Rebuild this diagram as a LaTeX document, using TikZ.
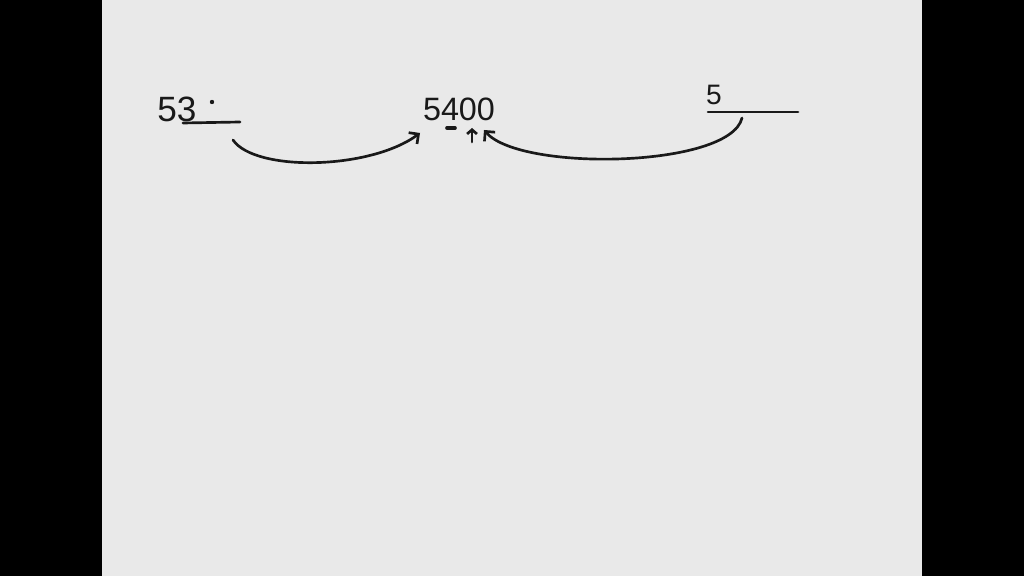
\documentclass[tikz,border=0pt]{standalone}
\usepackage{fontspec}
\setsansfont{Liberation Sans}
\usetikzlibrary{arrows.meta}
\definecolor{paper}{RGB}{233,233,233}
\definecolor{ink}{RGB}{25,25,25}
\tikzset{
  pen/.style={draw=ink,line width=1.9pt,line cap=round,line join=round},
  digits/.style={text=ink,inner sep=0pt,font=\sffamily},
  hand arrow/.style={pen,-{Straight Barb[length=5pt,width=10pt]}}
}

\begin{document}
\begin{tikzpicture}[x=0.025cm,y=-0.025cm]
      \useasboundingbox (0,0) rectangle (1024,576);
      \fill[black] (0,0) rectangle (1024,576);
      \fill[paper] (102,0) rectangle (922,576);
      % left number
      \node[digits,font=\sffamily\fontsize{25}{28}\selectfont] (left) at (177,109) {53};
      \fill[ink] (212,102) circle (2.2);
      \coordinate (ulA) at (183,123);
      \coordinate (ulB) at (240,122);
      \draw[pen] (ulA)--(ulB);
      % middle number
      \node[digits,font=\sffamily\fontsize{23}{26}\selectfont] (mid) at (459,109) {5400};
      \coordinate (dashA) at (447,128);
      \coordinate (dashB) at (455,128);
      \draw[pen,line width=2.6pt] (dashA)--(dashB);
      \coordinate (tickA) at (472,142);
      \coordinate (tickB) at (472,128);
      \draw[pen,-{Straight Barb[length=3pt,width=7pt]}] (tickA)--(tickB);
      % right number
      \node[digits,font=\sffamily\fontsize{20}{24}\selectfont] (right) at (714,95) {5};
      \coordinate (urA) at (708,112);
      \coordinate (urB) at (798,112);
      \draw[pen] (urA)--(urB);
      % arrows into 5400
      \coordinate (c1s) at (233,140);
      \coordinate (c1e) at (420,133);
      \draw[hand arrow] (c1s) .. controls (255,172) and (370,170) .. (c1e);
      \coordinate (c2s) at (742,118);
      \coordinate (c2e) at (484,130);
      \draw[hand arrow] (c2s) .. controls (730,168) and (520,172) .. (c2e);
\end{tikzpicture}
\end{document}
